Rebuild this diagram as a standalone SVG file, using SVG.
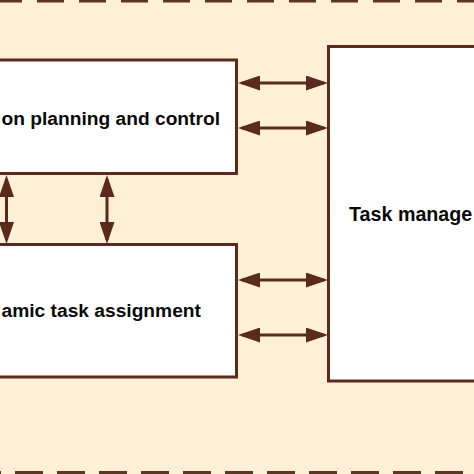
<svg xmlns="http://www.w3.org/2000/svg" width="474" height="474" viewBox="0 0 474 474">
  <style>
    .box { fill: #ffffff; stroke: #5a2a1d; stroke-width: 3; }
    .lbl { font-family: "Liberation Sans", Arial, sans-serif; font-weight: bold; font-size: 19.7px; fill: #0a0a0a; }
    .cut { font-size: 19.2px; }
    .conn { stroke: #5a2a1d; stroke-width: 3; fill: none; marker-start: url(#head); marker-end: url(#head); }
    .dash { stroke: #5c3524; stroke-width: 5; fill: none; }
  </style>
  <defs>
    <marker id="head" viewBox="0 0 22 15" refX="18" refY="7.5" markerWidth="22" markerHeight="15" markerUnits="userSpaceOnUse" orient="auto-start-reverse">
      <path d="M0,0 L22,7.5 L0,15 Z" fill="#5a2a1d"/>
    </marker>
  </defs>
  <rect x="0" y="0" width="474" height="474" fill="#fdf0d6"/>
  <g id="frame">
    <line class="dash" x1="-5" y1="0" x2="480" y2="0" stroke-dasharray="27 15"/>
    <line class="dash" x1="-27" y1="473.5" x2="480" y2="473.5" stroke-dasharray="28 14"/>
  </g>
  <g id="node-planning">
    <rect class="box" x="-10" y="60" width="246.5" height="113.5"/>
    <text class="lbl cut" x="1.5" y="124.5">on planning and control</text>
  </g>
  <g id="node-assignment">
    <rect class="box" x="-10" y="244.5" width="246.5" height="132.5"/>
    <text class="lbl cut" x="1.5" y="316.5">amic task assignment</text>
  </g>
  <g id="node-manager">
    <rect class="box" x="328.5" y="46.5" width="160" height="334.5"/>
    <text class="lbl" x="349" y="220.5">Task manage</text>
  </g>
  <g id="connectors">
    <line class="conn" x1="242" y1="83" x2="324" y2="83"/>
    <line class="conn" x1="242" y1="128" x2="324" y2="128"/>
    <line class="conn" x1="242" y1="280" x2="324" y2="280"/>
    <line class="conn" x1="242" y1="335" x2="324" y2="335"/>
    <line class="conn" x1="6.5" y1="179" x2="6.5" y2="240"/>
    <line class="conn" x1="107" y1="179" x2="107" y2="240"/>
  </g>
</svg>
